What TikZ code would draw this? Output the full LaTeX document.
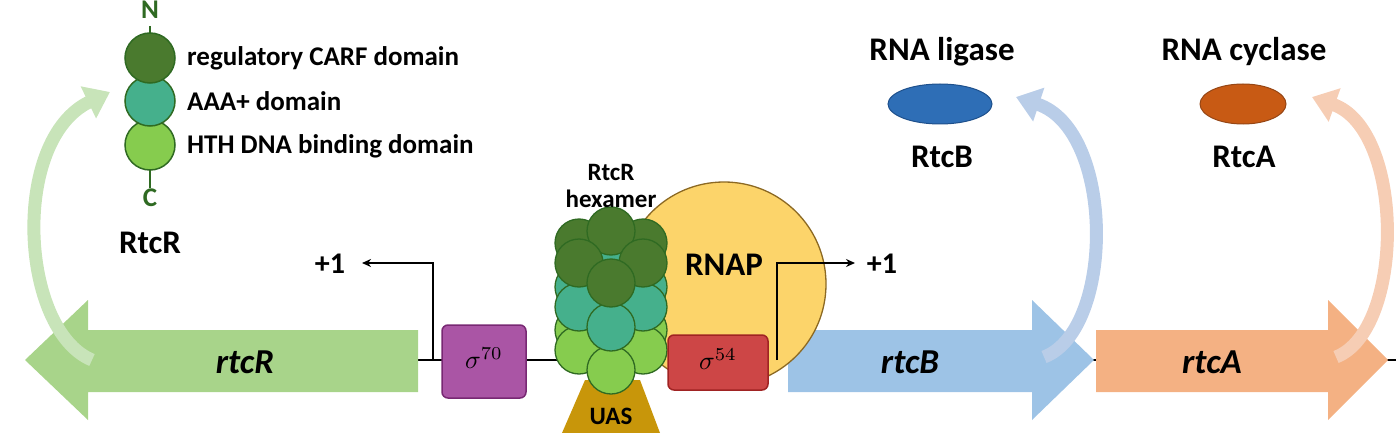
\documentclass[tikz,border=0pt]{standalone}
\usepackage{graphicx}
\usepackage{fontspec}
\setmainfont{Carlito}
\usetikzlibrary{arrows.meta,shapes.geometric}
\definecolor{dg}{HTML}{4A7A2E}
\definecolor{tl}{HTML}{45B08C}
\definecolor{lg}{HTML}{86CC4E}
\definecolor{bd}{HTML}{2F6A22}
\newcommand{\sigtxt}[1]{\scalebox{2.6}{$\sigma^{#1}$}}
\tikzset{
 lbl/.style={font=\bfseries\fontsize{27}{30}\selectfont,inner sep=0},
 hexl/.style={font=\bfseries\fontsize{25}{28}\selectfont,inner sep=0},
 big/.style={font=\bfseries\fontsize{33}{36}\selectfont,inner sep=0},
 gene/.style={font=\bfseries\itshape\fontsize{35}{38}\selectfont,inner sep=0},
 sig/.style={rounded corners=6pt,line width=1.5pt},
 sigt/.style={inner sep=0},
 tss/.style={line width=2pt,-{Stealth[length=9pt,width=8pt]}},
 curv/.style={line width=13pt,-{Triangle[length=24pt,width=34pt]}},
 dom/.style={circle,draw=bd,line width=1.5pt,minimum size=50pt,inner sep=0},
 hx/.style={circle,draw=bd,line width=1.3pt,minimum size=48pt,inner sep=0},
}
\begin{document}
\begin{tikzpicture}[x=1pt,y=-1pt]
\useasboundingbox (0,0) rectangle (1399,433);
% DNA
\draw[line width=2.5pt] (30,360) -- (1396,360);
% genes
\fill[color={rgb,255:red,168;green,212;blue,138}] (418,330) -- (88,330) -- (88,300) -- (25,360) -- (88,420) -- (88,392) -- (418,392) -- cycle;
\fill[color={rgb,255:red,157;green,195;blue,230}] (788,330) -- (1032,330) -- (1032,300) -- (1094,360) -- (1032,420) -- (1032,392) -- (788,392) -- cycle;
\fill[color={rgb,255:red,244;green,177;blue,131}] (1096,330) -- (1328,330) -- (1328,300) -- (1388,360) -- (1328,420) -- (1328,392) -- (1096,392) -- cycle;
\node[gene] (rtcR) at (245,362) {rtcR};
\node[gene] (rtcB) at (910,362) {rtcB};
\node[gene] (rtcA) at (1212,362) {rtcA};
% curved arrows
\draw[curv,draw={rgb,255:red,200;green,228;blue,185}] (92,360) .. controls (20,330) and (10,140) .. (110,92);
\draw[curv,draw={rgb,255:red,185;green,205;blue,232}] (1044,357) .. controls (1115,330) and (1115,130) .. (1016,97);
\draw[curv,draw={rgb,255:red,246;green,205;blue,180}] (1336,357) .. controls (1405,330) and (1405,130) .. (1312,97);
% left promoter
\coordinate (p1) at (433,360);
\node[font=\bfseries\fontsize{30}{32}\selectfont,inner sep=0] (plus1) at (330,264) {+1};
\draw[tss] (p1) -- (433,263) -- (362,263);
% sigma70
\draw[sig,fill={rgb,255:red,170;green,85;blue,165},draw={rgb,255:red,120;green,40;blue,115}] (442,325) rectangle (526,398);
\node[sigt] (s70) at (484,358) {\sigtxt{70}};
% RNAP
\node[circle,minimum size=204pt,inner sep=0,fill={rgb,255:red,252;green,212;blue,106},draw={rgb,255:red,140;green,105;blue,35},line width=1.3pt] (rnap) at (724,284) {};
\node[big] (rnaplab) at (724,265) {RNAP};
% UAS
\fill[color={rgb,255:red,200;green,150;blue,10}] (585,380) -- (640,380) -- (660,433) -- (562,433) -- cycle;
\node[hexl] (uas) at (611,416) {UAS};
% hexamer tiers
\foreach \yy/\cc in {330/lg,287/tl,243/dg}{
 \node[hx,fill=\cc] at (579,\yy) {};
 \node[hx,fill=\cc] at (643,\yy) {};
 \node[hx,fill=\cc] at (611,\yy-12) {};
 \node[hx,fill=\cc] at (579,\yy+20) {};
 \node[hx,fill=\cc] at (643,\yy+20) {};
 \node[hx,fill=\cc] at (611,\yy+40) {};
}
\node[hexl] (hex1) at (611,172) {RtcR};
\node[hexl] (hex2) at (611,199) {hexamer};
% sigma54
\draw[sig,fill={rgb,255:red,205;green,70;blue,70},draw={rgb,255:red,160;green,35;blue,35}] (668,335) rectangle (768,390);
\node[sigt] (s54) at (718,359) {\sigtxt{54}};
% right promoter
\coordinate (p2) at (777,360);
\node[font=\bfseries\fontsize{30}{32}\selectfont,inner sep=0] (plus2) at (882,264) {+1};
\draw[tss] (p2) -- (777,263) -- (855,263);
% legend
\draw[line width=1.3pt,bd] (150,26) -- (150,200);
\node[dom,fill=lg] (d3) at (150,145) {};
\node[dom,fill=tl] (d2) at (150,101) {};
\node[dom,fill=dg] (d1) at (150,58) {};
\node[lbl,text=bd] (N) at (150,10) {N};
\node[lbl,text=bd,fill=white,inner sep=1pt] (C) at (150,198) {C};
\node[lbl,anchor=west] (t1) at (187,58) {regulatory CARF domain};
\node[lbl,anchor=west] (t2) at (187,101) {AAA+ domain};
\node[lbl,anchor=west] (t3) at (187,146) {HTH DNA binding domain};
\node[big] (rtcRp) at (150,243) {RtcR};
% proteins
\node[big] (lig) at (942,52) {RNA ligase};
\node[ellipse,minimum width=104pt,minimum height=40pt,inner sep=0,fill={rgb,255:red,46;green,110;blue,182},draw={rgb,255:red,30;green,80;blue,140},line width=1pt] (B) at (940,104) {};
\node[big] (rtcBp) at (942,157) {RtcB};
\node[big] (cyc) at (1244,52) {RNA cyclase};
\node[ellipse,minimum width=86pt,minimum height=40pt,inner sep=0,fill={rgb,255:red,200;green,90;blue,20},draw={rgb,255:red,150;green,70;blue,20},line width=1pt] (A) at (1243,104) {};
\node[big] (rtcAp) at (1244,157) {RtcA};
\end{tikzpicture}
\end{document}
